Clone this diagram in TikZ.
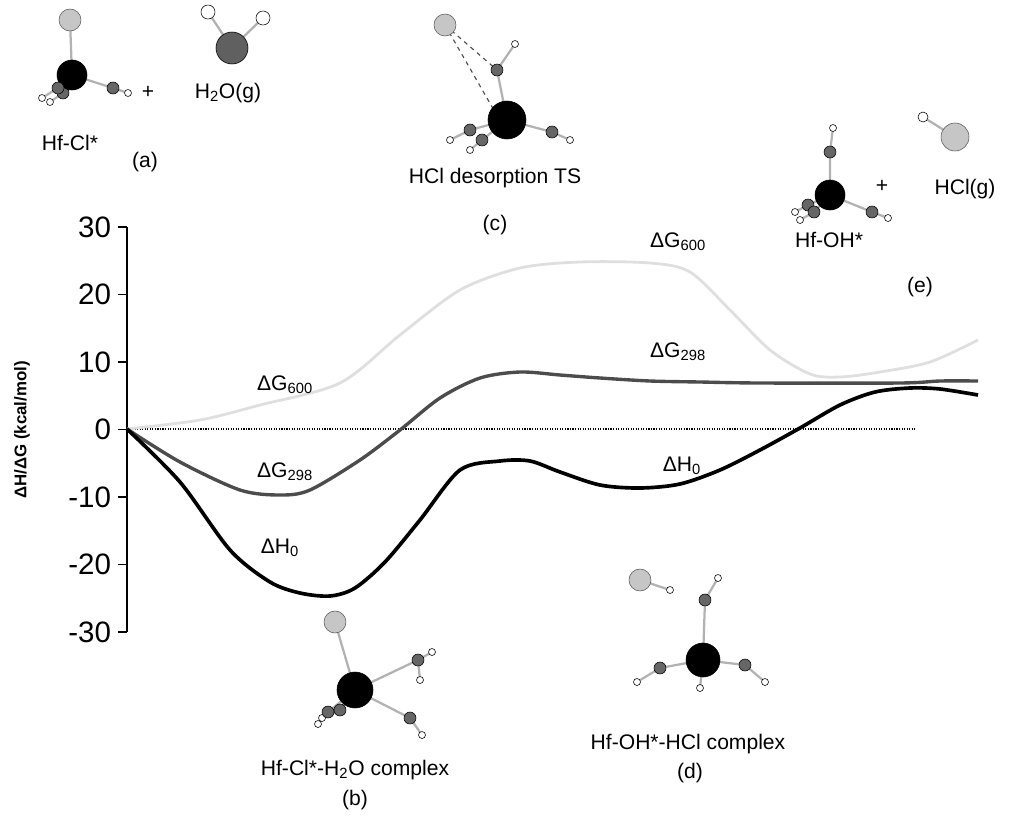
\documentclass[tikz,border=0pt]{standalone}
\usepackage{fontspec}
\setmainfont{Liberation Sans}
\begin{document}
\begin{tikzpicture}[x=0.025cm,y=-0.025cm,
 lbl/.style={font=\fontsize{15}{17}\selectfont},
 tick/.style={font=\fontsize{21}{24}\selectfont,anchor=east},
 hf/.style={circle,draw=black,fill=black,minimum size=30*0.025cm,inner sep=0},
 cl/.style={circle,draw=gray!70!black,fill=gray!45,minimum size=22*0.025cm,inner sep=0},
 ox/.style={circle,draw=black,fill=gray!80!black,minimum size=12*0.025cm,inner sep=0},
 hy/.style={circle,draw=black,fill=white,minimum size=7*0.025cm,inner sep=0},
 bond/.style={gray!60,line width=1.6pt}]
\useasboundingbox (0,0) rectangle (1019,823);
% axis
\draw[thick] (127,227) -- (127,632);
\foreach \v/\y in {30/227,20/294.5,10/362,0/429.5,-10/497,-20/564.5,-30/632}{
 \draw[thick] (118,\y) -- (127,\y);
 \node[tick] (t\v) at (116,\y) {\v};}
\draw[densely dotted,thick] (127,429) -- (915,429);
\node[rotate=90,font=\bfseries\fontsize{12}{14}\selectfont] (ax) at (22,430) {ΔH/ΔG (kcal/mol)};
% curves
\draw[gray!25,line width=2pt] plot[smooth] coordinates {(127,429)(200,420)(260,405)(340,383)(400,335)(460,290)(520,268)(580,262)(650,263)(690,272)(730,310)(770,350)(810,374)(840,377)(880,372)(930,362)(978,340)};
\draw[gray!60!black,line width=2.4pt] plot[smooth] coordinates {(127,429)(180,462)(240,490)(280,495)(310,490)(360,460)(400,430)(440,398)(480,378)(520,372)(560,375)(600,378)(650,381)(700,382)(760,383)(900,383)(940,381)(978,381)};
\draw[black,line width=2.6pt] plot[smooth] coordinates {(127,429)(180,482)(230,550)(270,582)(300,593)(330,596)(355,588)(385,562)(420,520)(460,470)(500,461)(530,461)(560,472)(600,485)(640,488)(680,484)(720,470)(760,450)(800,428)(840,405)(875,392)(910,388)(940,389)(978,395)};
\node[lbl] (g6a) at (285,385) {ΔG\textsubscript{600}};
\node[lbl] (g6b) at (678,242) {ΔG\textsubscript{600}};
\node[lbl] (g2a) at (285,472) {ΔG\textsubscript{298}};
\node[lbl] (g2b) at (678,352) {ΔG\textsubscript{298}};
\node[lbl] (h0a) at (280,548) {ΔH\textsubscript{0}};
\node[lbl] (h0b) at (682,466) {ΔH\textsubscript{0}};
% (a)
\draw[bond] (72,75)--(70,20) (72,75)--(58,88)--(42,98) (72,75)--(113,88)--(128,93) (72,75)--(63,93)--(50,102);
\node[cl] (a1) at (70,20) {};
\node[ox] (a3) at (63,93) {}; \node[ox] (a4) at (113,88) {};
\node[hy] at (42,98) {}; \node[hy] at (50,102) {}; \node[hy] at (128,93) {};
\node[hf] (a0) at (72,75) {};
\node[ox] (a2) at (58,88) {};
\node[lbl] (ap) at (148,92) {+};
\draw[bond] (232,48)--(208,12) (232,48)--(263,18);
\node[hy,minimum size=14*0.025cm] at (208,12) {};
\node[hy,minimum size=14*0.025cm] at (263,18) {};
\node[circle,draw=black,fill=gray!75!black,minimum size=32*0.025cm] (aw) at (232,48) {};
\node[lbl] at (228,93) {H\textsubscript{2}O(g)};
\node[lbl] at (70,143) {Hf-Cl*};
\node[lbl] at (145,162) {(a)};
% (c)
\draw[bond] (507,120)--(497,70)--(515,44) (507,120)--(470,130)--(450,140) (507,120)--(482,140)--(470,150) (507,120)--(552,132)--(570,140);
\draw[dashed,thick,gray!60!black] (445,25)--(497,70) (445,25)--(495,112);
\node[cl] (c1) at (445,25) {};
\node[ox] at (497,70) {}; \node[hy] at (515,44) {};
\node[hy] at (450,140) {}; \node[hy] at (470,150) {}; \node[hy] at (570,140) {};
\node[ox] at (470,130) {}; \node[ox] at (552,132) {};
\node[hf,minimum size=38*0.025cm] (c0) at (507,120) {};
\node[ox] at (482,140) {};
\node[lbl] at (495,178) {HCl desorption TS};
\node[lbl] at (495,225) {(c)};
% (e)
\draw[bond] (830,195)--(830,152)--(833,128) (830,195)--(808,205)--(795,212) (830,195)--(814,212)--(800,220) (830,195)--(872,212)--(888,218);
\node[ox] at (830,152) {}; \node[hy] at (833,128) {};
\node[hy] at (795,212) {}; \node[hy] at (800,220) {}; \node[hy] at (888,218) {};
\node[ox] at (808,205) {}; \node[ox] at (872,212) {};
\node[hf] (e0) at (830,195) {};
\node[ox] at (814,212) {};
\node[lbl] at (882,186) {+};
\draw[bond] (923,117)--(955,137);
\node[hy,minimum size=10*0.025cm] at (923,117) {};
\node[cl,minimum size=28*0.025cm] (e1) at (955,137) {};
\node[lbl] at (965,189) {HCl(g)};
\node[lbl] at (829,240) {Hf-OH*};
\node[lbl] at (920,287) {(e)};
% (b)
\draw[bond] (355,690)--(335,622) (355,690)--(418,660)--(432,652) (418,660)--(420,680) (355,690)--(410,718)--(422,735) (355,690)--(340,710)--(322,718) (355,690)--(328,712)--(318,724);
\node[cl] at (335,622) {};
\node[hy] at (432,652) {}; \node[hy] at (420,680) {}; \node[hy] at (422,735) {};
\node[hy] at (322,718) {}; \node[hy] at (318,724) {};
\node[ox] at (418,660) {}; \node[ox] at (410,718) {}; \node[ox] at (328,712) {};
\node[hf,minimum size=36*0.025cm] (b0) at (355,690) {};
\node[ox] at (340,710) {};
\node[lbl] at (355,770) {Hf-Cl*-H\textsubscript{2}O complex};
\node[lbl] at (355,800) {(b)};
% (d)
\draw[bond] (703,660)--(705,600)--(718,578) (703,660)--(660,668)--(637,682) (703,660)--(745,665)--(765,682) (703,660)--(700,688) (640,580)--(670,590);
\node[cl] at (640,580) {}; \node[hy] at (670,590) {};
\node[ox] at (705,600) {}; \node[hy] at (718,578) {};
\node[hy] at (637,682) {}; \node[hy] at (765,682) {}; \node[hy] at (700,688) {};
\node[ox] at (660,668) {}; \node[ox] at (745,665) {};
\node[hf,minimum size=34*0.025cm] (d0) at (703,660) {};
\node[lbl] at (688,744) {Hf-OH*-HCl complex};
\node[lbl] at (690,773) {(d)};
\end{tikzpicture}
\end{document}
